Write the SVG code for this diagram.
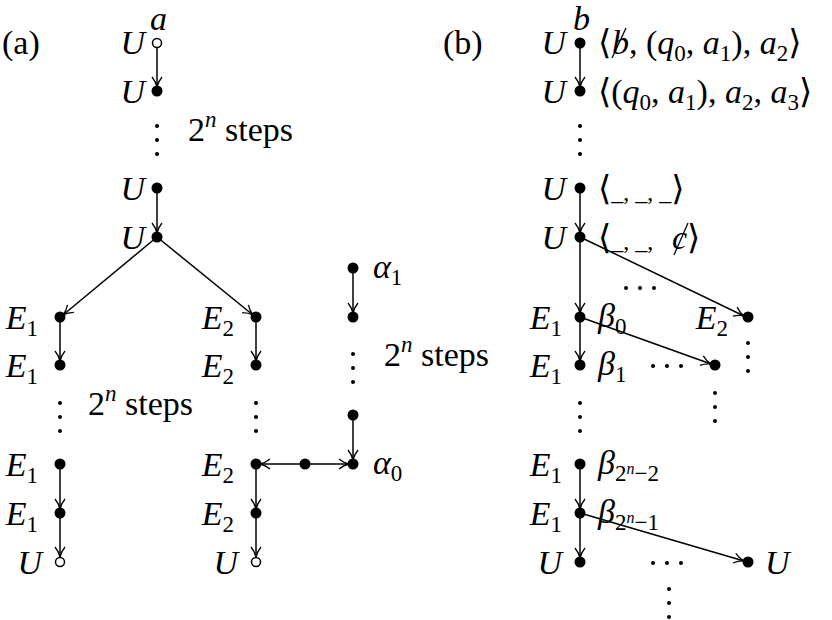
<svg xmlns="http://www.w3.org/2000/svg" width="832" height="620" viewBox="0 0 832 620">
<style>
text{font-family:"Liberation Serif","Times New Roman","Nimbus Roman","DejaVu Serif",serif;font-size:34px;fill:#000}
.m{font-style:italic}
.r{text-anchor:end}
.s{font-size:23px}
.c line{stroke:#000;stroke-width:1.5;marker-end:url(#ah)}
.d{fill:#000}
.o{fill:#fff;stroke:#000;stroke-width:1.5}
</style>
<defs>
<marker id="ah" viewBox="0 0 12 12" refX="11" refY="6" markerWidth="12" markerHeight="12" markerUnits="userSpaceOnUse" orient="auto-start-reverse">
<path d="M1,1 Q6,5 11,6 Q6,7 1,11" fill="none" stroke="#000" stroke-width="1.3"/>
</marker>
</defs>
<g class="c" id="connectors">
<line x1="157" y1="47" x2="157" y2="87"/>
<line x1="157" y1="188" x2="157" y2="233"/>
<line x1="157" y1="237" x2="63" y2="315"/>
<line x1="157" y1="237" x2="253" y2="315"/>
<line x1="60" y1="317" x2="60" y2="361"/>
<line x1="60" y1="464" x2="60" y2="509"/>
<line x1="60" y1="513" x2="60" y2="557"/>
<line x1="256" y1="317" x2="256" y2="361"/>
<line x1="256" y1="464" x2="256" y2="509"/>
<line x1="256" y1="513" x2="256" y2="557"/>
<line x1="353" y1="268" x2="353" y2="313"/>
<line x1="353" y1="415" x2="353" y2="460"/>
<line x1="305" y1="464" x2="260" y2="464"/>
<line x1="305" y1="464" x2="349" y2="464"/>
<line x1="580" y1="43" x2="580" y2="87"/>
<line x1="580" y1="188" x2="580" y2="233"/>
<line x1="580" y1="237" x2="580" y2="313"/>
<line x1="580" y1="237" x2="744" y2="316"/>
<line x1="580" y1="317" x2="580" y2="361"/>
<line x1="580" y1="317" x2="711" y2="364"/>
<line x1="580" y1="464" x2="580" y2="509"/>
<line x1="580" y1="513" x2="580" y2="558"/>
<line x1="580" y1="513" x2="744" y2="561"/>
</g>
<g id="dots" class="d">
<circle cx="157" cy="126" r="2"/><circle cx="157" cy="140" r="2"/><circle cx="157" cy="154" r="2"/>
<circle cx="60" cy="403" r="2"/><circle cx="60" cy="417" r="2"/><circle cx="60" cy="431" r="2"/>
<circle cx="256" cy="403" r="2"/><circle cx="256" cy="417" r="2"/><circle cx="256" cy="431" r="2"/>
<circle cx="353" cy="354" r="2"/><circle cx="353" cy="368" r="2"/><circle cx="353" cy="382" r="2"/>
<circle cx="580" cy="126" r="2"/><circle cx="580" cy="140" r="2"/><circle cx="580" cy="154" r="2"/>
<circle cx="580" cy="403" r="2"/><circle cx="580" cy="417" r="2"/><circle cx="580" cy="431" r="2"/>
<circle cx="748" cy="343" r="2"/><circle cx="748" cy="357" r="2"/><circle cx="748" cy="371" r="2"/>
<circle cx="715" cy="393" r="2"/><circle cx="715" cy="407" r="2"/><circle cx="715" cy="421" r="2"/>
<circle cx="669" cy="589" r="2"/><circle cx="669" cy="603" r="2"/><circle cx="669" cy="617" r="2"/>
<circle cx="626" cy="288" r="2"/><circle cx="640" cy="288" r="2"/><circle cx="654" cy="288" r="2"/>
<circle cx="653" cy="366" r="2"/><circle cx="667" cy="366" r="2"/><circle cx="681" cy="366" r="2"/>
<circle cx="653" cy="563" r="2"/><circle cx="667" cy="563" r="2"/><circle cx="681" cy="563" r="2"/>
</g>
<text x="2" y="54">(a)</text>
<text x="443" y="54">(b)</text>
<g id="a0"><circle class="o" cx="157" cy="43" r="4.5"/><text class="m r" x="145" y="54">U</text><text class="m" x="150" y="30" font-size="30">a</text></g>
<g id="a1"><circle class="d" cx="157" cy="91" r="5.5"/><text class="m r" x="145" y="103">U</text></g>
<text x="188" y="141">2<tspan class="m s" dy="-14">n</tspan><tspan dy="14"> steps</tspan></text>
<g id="a2"><circle class="d" cx="157" cy="188" r="5.5"/><text class="m r" x="145" y="200">U</text></g>
<g id="a3"><circle class="d" cx="157" cy="237" r="5.5"/><text class="m r" x="145" y="249">U</text></g>
<g id="e1a"><circle class="d" cx="60" cy="317" r="5.5"/><text class="m r" x="38" y="329">E<tspan class="s" dy="7" font-style="normal">1</tspan></text></g>
<g id="e1b"><circle class="d" cx="60" cy="365" r="5.5"/><text class="m r" x="38" y="377">E<tspan class="s" dy="7" font-style="normal">1</tspan></text></g>
<text x="88" y="415">2<tspan class="m s" dy="-14">n</tspan><tspan dy="14"> steps</tspan></text>
<g id="e1c"><circle class="d" cx="60" cy="464" r="5.5"/><text class="m r" x="38" y="476">E<tspan class="s" dy="7" font-style="normal">1</tspan></text></g>
<g id="e1d"><circle class="d" cx="60" cy="513" r="5.5"/><text class="m r" x="38" y="525">E<tspan class="s" dy="7" font-style="normal">1</tspan></text></g>
<g id="e1u"><circle class="o" cx="60" cy="562" r="4.5"/><text class="m r" x="42" y="574">U</text></g>
<g id="e2a"><circle class="d" cx="256" cy="317" r="5.5"/><text class="m r" x="234" y="329">E<tspan class="s" dy="7" font-style="normal">2</tspan></text></g>
<g id="e2b"><circle class="d" cx="256" cy="365" r="5.5"/><text class="m r" x="234" y="377">E<tspan class="s" dy="7" font-style="normal">2</tspan></text></g>
<g id="e2c"><circle class="d" cx="256" cy="464" r="5.5"/><text class="m r" x="234" y="476">E<tspan class="s" dy="7" font-style="normal">2</tspan></text></g>
<g id="e2d"><circle class="d" cx="256" cy="513" r="5.5"/><text class="m r" x="234" y="525">E<tspan class="s" dy="7" font-style="normal">2</tspan></text></g>
<g id="e2u"><circle class="o" cx="256" cy="562" r="4.5"/><text class="m r" x="238" y="574">U</text></g>
<g id="al1"><circle class="d" cx="353" cy="268" r="5.5"/><text class="m" x="373" y="278">α<tspan class="s" dy="7" font-style="normal">1</tspan></text></g>
<g id="al1b"><circle class="d" cx="353" cy="317" r="5.5"/></g>
<text x="384" y="366">2<tspan class="m s" dy="-14">n</tspan><tspan dy="14"> steps</tspan></text>
<g id="al0b"><circle class="d" cx="353" cy="415" r="5.5"/></g>
<g id="mid"><circle class="d" cx="305" cy="464" r="5.5"/></g>
<g id="al0"><circle class="d" cx="353" cy="464" r="5.5"/><text class="m" x="373" y="474">α<tspan class="s" dy="7" font-style="normal">0</tspan></text></g>
<g id="b0"><circle class="d" cx="580" cy="43" r="5.5"/><text class="m r" x="566" y="54">U</text><text class="m" x="573" y="30" font-size="30">b</text>
<text x="598" y="54">⟨<tspan class="m" x="612">b</tspan>, (<tspan class="m">q</tspan><tspan class="s" dy="7">0</tspan><tspan dy="-7">, </tspan><tspan class="m">a</tspan><tspan class="s" dy="7">1</tspan><tspan dy="-7">), </tspan><tspan class="m">a</tspan><tspan class="s" dy="7">2</tspan><tspan dy="-7">⟩</tspan></text>
<line x1="612" y1="58" x2="626" y2="28" stroke="#000" stroke-width="1.3"/></g>
<g id="b1"><circle class="d" cx="580" cy="91" r="5.5"/><text class="m r" x="566" y="103">U</text>
<text x="598" y="103">⟨(<tspan class="m">q</tspan><tspan class="s" dy="7">0</tspan><tspan dy="-7">, </tspan><tspan class="m">a</tspan><tspan class="s" dy="7">1</tspan><tspan dy="-7">), </tspan><tspan class="m">a</tspan><tspan class="s" dy="7">2</tspan><tspan dy="-7">, </tspan><tspan class="m">a</tspan><tspan class="s" dy="7">3</tspan><tspan dy="-7">⟩</tspan></text></g>
<g id="b2"><circle class="d" cx="580" cy="188" r="5.5"/><text class="m r" x="566" y="200">U</text><text x="598" y="200">⟨<tspan font-size="24">_, _, _</tspan>⟩</text></g>
<g id="b3"><circle class="d" cx="580" cy="237" r="5.5"/><text class="m r" x="566" y="249">U</text><text x="598" y="249">⟨<tspan font-size="24">_, _,</tspan><tspan class="m" x="672">c</tspan>⟩</text>
<line x1="674" y1="255" x2="688" y2="223" stroke="#000" stroke-width="1.3"/></g>
<g id="b4"><circle class="d" cx="580" cy="317" r="5.5"/><text class="m r" x="562" y="329">E<tspan class="s" dy="7" font-style="normal">1</tspan></text><text class="m" x="598" y="327">β<tspan class="s" dy="7" font-style="normal">0</tspan></text></g>
<g id="b5"><circle class="d" cx="580" cy="365" r="5.5"/><text class="m r" x="562" y="377">E<tspan class="s" dy="7" font-style="normal">1</tspan></text><text class="m" x="598" y="375">β<tspan class="s" dy="7" font-style="normal">1</tspan></text></g>
<g id="b6"><circle class="d" cx="580" cy="464" r="5.5"/><text class="m r" x="562" y="476">E<tspan class="s" dy="7" font-style="normal">1</tspan></text><text class="m" x="598" y="474">β<tspan class="s" dy="7" font-style="normal">2</tspan><tspan class="m" dy="-7" font-size="16">n</tspan><tspan class="s" dy="7" font-style="normal">−2</tspan></text></g>
<g id="b7"><circle class="d" cx="580" cy="513" r="5.5"/><text class="m r" x="562" y="525">E<tspan class="s" dy="7" font-style="normal">1</tspan></text><text class="m" x="598" y="523">β<tspan class="s" dy="7" font-style="normal">2</tspan><tspan class="m" dy="-7" font-size="16">n</tspan><tspan class="s" dy="7" font-style="normal">−1</tspan></text></g>
<g id="b8"><circle class="d" cx="580" cy="562" r="5.5"/><text class="m r" x="562" y="574">U</text></g>
<g id="bE2"><circle class="d" cx="748" cy="317" r="5.5"/><text class="m r" x="728" y="329">E<tspan class="s" dy="7" font-style="normal">2</tspan></text></g>
<g id="bx"><circle class="d" cx="715" cy="365" r="5.5"/></g>
<g id="bU"><circle class="d" cx="748" cy="562" r="5.5"/><text class="m" x="765" y="574">U</text></g>
</svg>
